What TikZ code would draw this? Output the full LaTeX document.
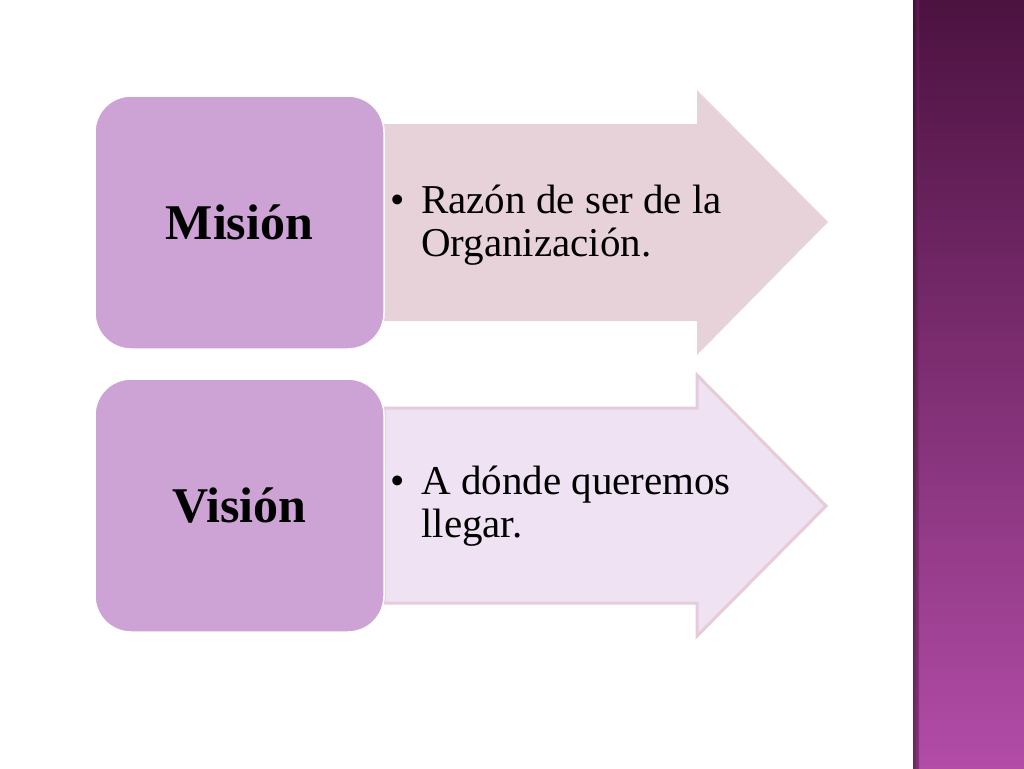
\documentclass[tikz,border=0pt]{standalone}
\usepackage{fontspec}
\setmainfont{Liberation Serif}
\definecolor{boxfill}{HTML}{CDA2D5}
\definecolor{arrowA}{HTML}{E8D2DA}
\definecolor{arrowB}{HTML}{EFE2F3}
\definecolor{arrowBline}{HTML}{E5CCD8}
\definecolor{bartop}{HTML}{4C1240}
\definecolor{barbot}{HTML}{B24CA7}
\definecolor{baredge}{HTML}{3A0E30}
\tikzset{
  titlebox/.style={draw=white, line width=1.5pt, fill=boxfill, rounded corners=36pt},
  titletext/.style={font=\fontsize{50}{60}\selectfont\bfseries, inner sep=0pt, anchor=base},
  bodytext/.style={font=\fontsize{41}{49}\selectfont, inner sep=0pt, anchor=base west},
}
\begin{document}
\begin{tikzpicture}[x=1pt,y=-1pt]
\useasboundingbox (0,0) rectangle (1024,768);
\fill[white] (0,0) rectangle (1024,768);
% right bar
\shade[top color=bartop, bottom color=barbot] (913,0) rectangle (1024,768);
\shade[left color=baredge, right color=bartop!60!barbot, opacity=0.6] (913,0) rectangle (919,768);
% arrows
\fill[arrowA] (384,124) -- (697,124) -- (697,90) -- (828,222) -- (697,355) -- (697,321) -- (384,321) -- cycle;
\filldraw[fill=arrowB, draw=arrowBline, line width=3pt, line join=miter] (384,408) -- (697,408) -- (697,375) -- (826,506) -- (697,636) -- (697,603) -- (384,603) -- cycle;
% boxes
\draw[titlebox] (95,96) rectangle (384,349);
\node[titletext] (mision) at (239.5,239) {Misión};
\draw[titlebox] (95,379) rectangle (384,632);
\node[titletext] (vision) at (239.5,522) {Visión};
% texts
\node[bodytext] (b1) at (390,213) {\textbullet};
\node[bodytext] (t1a) at (421,213) {Razón de ser de la};
\node[bodytext] (t1b) at (421,256) {Organización.};
\node[bodytext] (b2) at (390,494) {\textbullet};
\node[bodytext] (t2a) at (421,494) {A dónde queremos};
\node[bodytext] (t2b) at (421,537) {llegar.};
\end{tikzpicture}
\end{document}
